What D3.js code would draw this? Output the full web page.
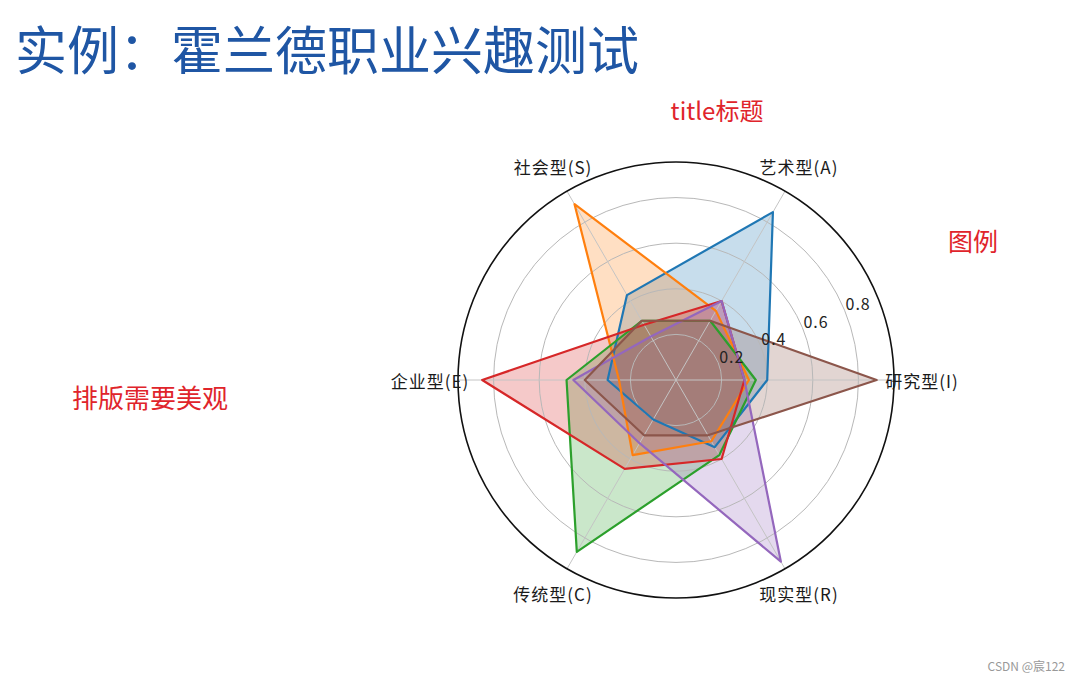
<!DOCTYPE html>
<html>
<head>
<meta charset="utf-8">
<script src="https://cdn.jsdelivr.net/npm/d3@7"></script>
<style>
  html, body { margin: 0; padding: 0; background: #fff; }
  svg { display: block; }
</style>
</head>
<body>
<div id="chart"></div>
<script>
// Holland interest test, six types counter-clockwise from 3 o'clock
const categories = ['研究型(I)', '艺术型(A)', '社会型(S)', '企业型(E)', '传统型(C)', '现实型(R)']
const radialTicks = [0.2, 0.4, 0.6, 0.8]
const radialMax = 0.956

// one profile per colour, each peaking on a different type
const artisticSeries = [0.40, 0.85, 0.43, 0.30, 0.20, 0.34]
const socialSeries = [0.32, 0.35, 0.89, 0.25, 0.38, 0.31]
const conventionalSeries = [0.35, 0.30, 0.30, 0.48, 0.87, 0.38]
const enterprisingSeries = [0.30, 0.40, 0.28, 0.85, 0.45, 0.40]
const realisticSeries = [0.30, 0.40, 0.22, 0.45, 0.32, 0.92]
const investigativeSeries = [0.88, 0.30, 0.30, 0.40, 0.28, 0.28]
const seriesColors = ['#1f77b4', '#ff7f0e', '#2ca02c', '#d62728', '#9467bd', '#8c564b']

const series = [artisticSeries, socialSeries, conventionalSeries, enterprisingSeries, realisticSeries, investigativeSeries]
  .map((values, i) => ({ values, color: seriesColors[i] }))

const width = 1080
const height = 683
const center = { x: 676, y: 380 }
const outerRadius = 218
const labelFont = '"Noto Sans CJK SC", "Noto Sans", sans-serif'

const svg = d3.select('#chart')
  .append('svg')
  .style('background-color', '#FFF')
  .attr('width', width)
  .attr('height', height)

const r = d3.scaleLinear()
  .domain([0, radialMax])
  .range([0, outerRadius])

// d3 radial angles run clockwise from 12 o'clock
const angle = d3.scaleLinear()
  .domain([0, categories.length])
  .range([Math.PI / 2, Math.PI / 2 - 2 * Math.PI])

const g = svg.append('g')
  .attr('transform', `translate(${center.x}, ${center.y})`)

const radarLine = d3.lineRadial()
  .angle((d, i) => angle(i))
  .radius(d => r(d))
  .curve(d3.curveLinearClosed)

// fills sit under the grid, lines over it
g.append('g')
  .selectAll('path')
  .data(series)
  .join('path')
  .attr('d', d => radarLine(d.values))
  .attr('fill', d => d.color)
  .attr('fill-opacity', 0.25)

g.append('g')
  .selectAll('circle')
  .data(radialTicks)
  .join('circle')
  .attr('r', d => r(d))
  .attr('fill', 'none')
  .attr('stroke', '#b8b8b8')
  .attr('stroke-width', 1)

g.append('g')
  .selectAll('line')
  .data(categories)
  .join('line')
  .attr('x2', (d, i) => d3.pointRadial(angle(i), outerRadius)[0])
  .attr('y2', (d, i) => d3.pointRadial(angle(i), outerRadius)[1])
  .attr('stroke', '#c4c4c4')
  .attr('stroke-width', 1)

g.append('g')
  .selectAll('path')
  .data(series)
  .join('path')
  .attr('d', d => radarLine(d.values))
  .attr('fill', 'none')
  .attr('stroke', d => d.color)
  .attr('stroke-width', 2.2)
  .attr('stroke-linejoin', 'round')

g.append('circle')
  .attr('r', outerRadius)
  .attr('fill', 'none')
  .attr('stroke', '#111')
  .attr('stroke-width', 1.6)

// radial tick labels along 22.5 degrees
const tickAngle = Math.PI / 2 - Math.PI / 8
g.append('g')
  .selectAll('text')
  .data(radialTicks)
  .join('text')
  .attr('x', d => d3.pointRadial(tickAngle, r(d))[0] + 1)
  .attr('y', d => d3.pointRadial(tickAngle, r(d))[1])
  .attr('font-family', labelFont)
  .attr('font-size', 16)
  .attr('letter-spacing', 1)
  .attr('fill', '#222')
  .text(d => d.toFixed(1))

g.append('g')
  .selectAll('text')
  .data(categories)
  .join('text')
  .attr('x', (d, i) => d3.pointRadial(angle(i), 246)[0])
  .attr('y', (d, i) => d3.pointRadial(angle(i), 246)[1])
  .attr('text-anchor', 'middle')
  .attr('dominant-baseline', 'central')
  .attr('font-family', labelFont)
  .attr('font-size', 17)
  .attr('letter-spacing', 1)
  .attr('fill', '#1a1a1a')
  .text(d => d)

// slide annotations
svg.append('text')
  .attr('x', 15)
  .attr('y', 70)
  .attr('font-family', labelFont)
  .attr('font-size', 52)
  .attr('fill', '#1f56a4')
  .text('实例：霍兰德职业兴趣测试')

const notes = [
  { text: 'title标题', x: 717, y: 120, size: 24 },
  { text: '图例', x: 973, y: 251, size: 25 },
  { text: '排版需要美观', x: 150, y: 408, size: 26 }
]

svg.append('g')
  .selectAll('text')
  .data(notes)
  .join('text')
  .attr('x', d => d.x)
  .attr('y', d => d.y)
  .attr('text-anchor', 'middle')
  .attr('font-family', labelFont)
  .attr('font-size', d => d.size)
  .attr('fill', '#e0242b')
  .text(d => d.text)

svg.append('text')
  .attr('x', 1065)
  .attr('y', 671)
  .attr('text-anchor', 'end')
  .attr('font-family', labelFont)
  .attr('font-size', 12)
  .attr('fill', '#999')
  .text('CSDN @宸122')
</script>
</body>
</html>
